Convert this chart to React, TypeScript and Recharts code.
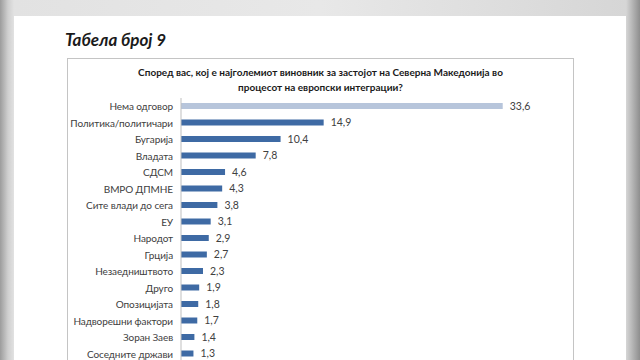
import React from "react";
import { BarChart, Bar, XAxis, YAxis, Cell, LabelList } from "recharts";

const categories = [
  "Нема одговор",
  "Политика/политичари",
  "Бугарија",
  "Владата",
  "СДСМ",
  "ВМРО ДПМНЕ",
  "Сите влади до сега",
  "ЕУ",
  "Народот",
  "Грција",
  "Незаедништвото",
  "Друго",
  "Опозицијата",
  "Надворешни фактори",
  "Зоран Заев",
  "Соседните држави",
];
const values = [33.6, 14.9, 10.4, 7.8, 4.6, 4.3, 3.8, 3.1, 2.9, 2.7, 2.3, 1.9, 1.8, 1.7, 1.4, 1.3];
const pageTitle = "Табела број 9";
const chartTitle1 = "Според вас, кој е најголемиот виновник за застојот на Северна Македонија во";
const chartTitle2 = "процесот на европски интеграции?";

const data = categories.map((name, i) => ({ name, value: values[i] }));

const FONT = "Lato, 'Open Sans', sans-serif";

const CategoryTick = (props: any) => {
  const { x, y, payload } = props;
  return (
    <text
      x={x}
      y={y}
      dy={4}
      textAnchor="end"
      fontSize={10}
      letterSpacing={-0.1}
      fill="#404040"
      fontFamily={FONT}
    >
      {payload.value}
    </text>
  );
};

export default function App() {
  return (
    <div
      style={{
        position: "absolute",
        left: 0,
        top: 0,
        width: 640,
        height: 360,
        overflow: "hidden",
        background:
          "linear-gradient(to right, #9c9c9c 0px, #cfcfcf 8px, #e2e2e2 14px, #e8e8e8 320px, #d6d6d6 626px, #8e8e8e 640px)",
        fontFamily: FONT,
      }}
    >
      <div
        style={{
          position: "absolute",
          left: 14,
          top: 16,
          width: 612,
          height: 400,
          background: "#ffffff",
        }}
      />
      <div
        style={{
          position: "absolute",
          left: 65,
          top: 29,
          fontSize: 17,
          fontWeight: 700,
          fontStyle: "italic",
          color: "#1a1a1a",
          whiteSpace: "nowrap",
        }}
      >
        {pageTitle}
      </div>
      <div
        style={{
          position: "absolute",
          left: 67,
          top: 58,
          width: 507,
          height: 400,
          border: "1px solid #c4c4c4",
          boxSizing: "border-box",
        }}
      />
      <div
        style={{
          position: "absolute",
          left: 67,
          top: 65,
          width: 507,
          textAlign: "center",
          fontSize: 10,
          fontWeight: 700,
          color: "#1a1a1a",
          lineHeight: "15px",
          whiteSpace: "nowrap",
        }}
      >
        <div>{chartTitle1}</div>
        <div>{chartTitle2}</div>
      </div>
      <div style={{ position: "absolute", left: 67, top: 58 }}>
        <BarChart
          width={507}
          height={320}
          data={data}
          layout="vertical"
          margin={{ top: 40, right: 10, bottom: 16, left: 0 }}
        >
          <XAxis type="number" domain={[0, 40]} hide />
          <YAxis
            type="category"
            dataKey="name"
            width={114}
            axisLine={{ stroke: "#bfbfbf" }}
            tickLine={false}
            interval={0}
            tick={<CategoryTick />}
          />
          <Bar dataKey="value" barSize={6} isAnimationActive={false}>
            {data.map((d, i) => (
              <Cell key={d.name} fill={i === 0 ? "#b7c5db" : "#3e6aa4"} />
            ))}
            <LabelList
              dataKey="value"
              position="right"
              offset={7}
              formatter={(v: number) => v.toFixed(1).replace(".", ",")}
              style={{ fontSize: 10.5, fill: "#404040", fontFamily: FONT }}
            />
          </Bar>
        </BarChart>
      </div>
    </div>
  );
}
